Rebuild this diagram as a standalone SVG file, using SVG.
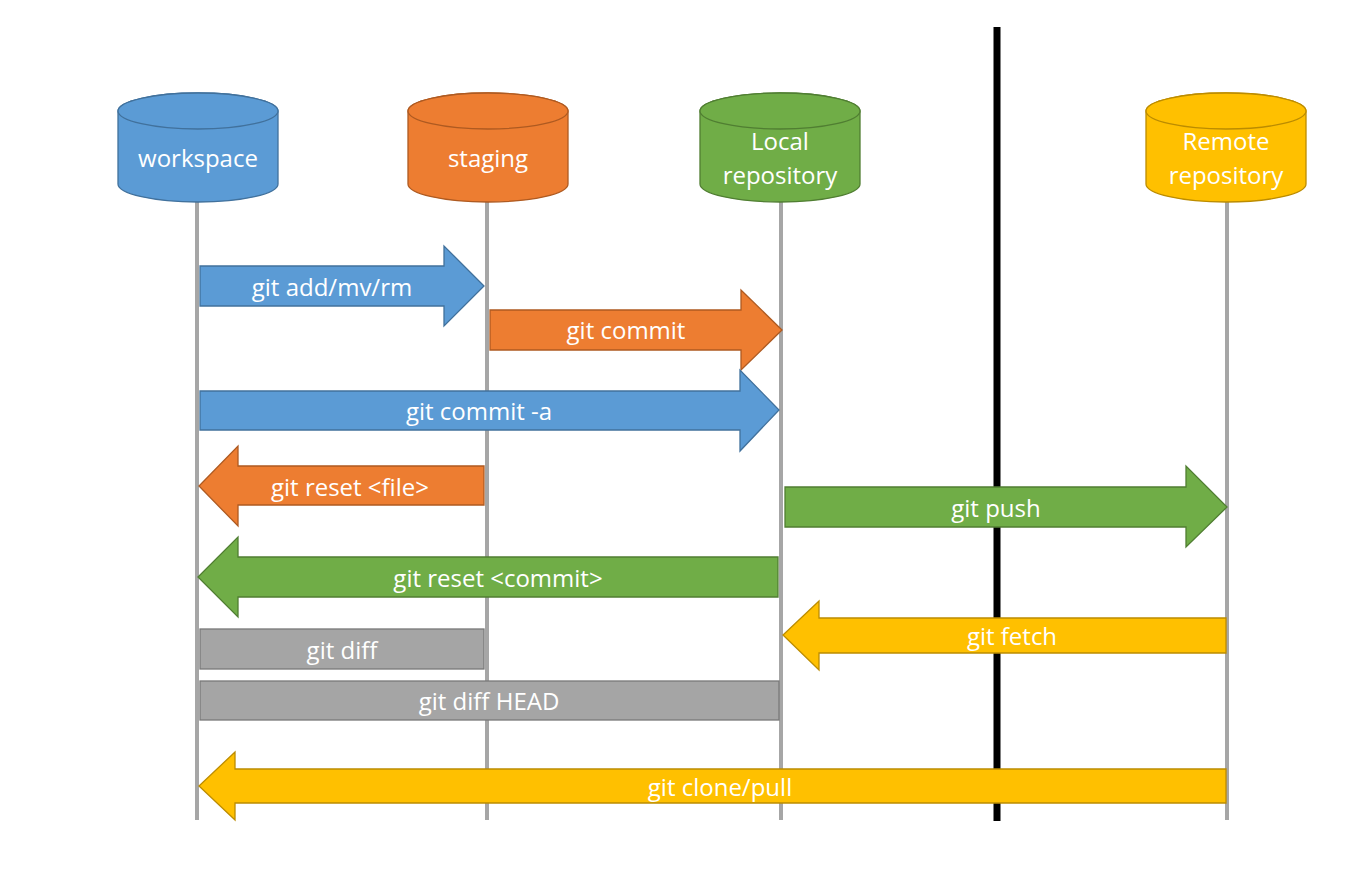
<svg xmlns="http://www.w3.org/2000/svg" width="1358" height="887" viewBox="0 0 1358 887">
<style>
text{font-family:"Open Sans","Noto Sans",sans-serif;font-size:24px;fill:#fff;text-anchor:middle;dominant-baseline:central}
.life{stroke:#A6A6A6;stroke-width:4;fill:none}
.blue{fill:#5B9BD5;stroke:#41719C;stroke-width:1.3}
.orange{fill:#ED7D31;stroke:#AE5A21;stroke-width:1.3}
.green{fill:#70AD47;stroke:#507E32;stroke-width:1.3}
.yellow{fill:#FFC000;stroke:#BC8C00;stroke-width:1.3}
.gray{fill:#A5A5A5;stroke:#787878;stroke-width:1.3}
</style>
<rect width="1358" height="887" fill="#fff"/>
<g id="lifelines">
<line class="life" x1="197" y1="200" x2="197" y2="820"/>
<line class="life" x1="487" y1="200" x2="487" y2="820"/>
<line class="life" x1="781" y1="200" x2="781" y2="820"/>
<line class="life" x1="1227" y1="200" x2="1227" y2="820"/>
<line x1="997" y1="27" x2="997" y2="821" stroke="#000" stroke-width="7"/>
</g>
<g id="workspace">
<path class="blue" d="M118,111 A80,18 0 0 1 278,111 V184 A80,18 0 0 1 118,184 Z"/>
<ellipse class="blue" cx="198" cy="111" rx="80" ry="18"/>
<text x="198" y="157">workspace</text>
</g>
<g id="staging">
<path class="orange" d="M408,111 A80,18 0 0 1 568,111 V184 A80,18 0 0 1 408,184 Z"/>
<ellipse class="orange" cx="488" cy="111" rx="80" ry="18"/>
<text x="488" y="157">staging</text>
</g>
<g id="local">
<path class="green" d="M700,111 A80,18 0 0 1 860,111 V184 A80,18 0 0 1 700,184 Z"/>
<ellipse class="green" cx="780" cy="111" rx="80" ry="18"/>
<text x="780" y="140">Local</text>
<text x="780" y="174">repository</text>
</g>
<g id="remote">
<path class="yellow" d="M1146,111 A80,18 0 0 1 1306,111 V184 A80,18 0 0 1 1146,184 Z"/>
<ellipse class="yellow" cx="1226" cy="111" rx="80" ry="18"/>
<text x="1226" y="140">Remote</text>
<text x="1226" y="174">repository</text>
</g>
<g id="connectors">
<g id="git-add">
<path class="blue" d="M200,266 H444 V246 L484,286 L444,326 V306 H200 Z"/>
<text x="332" y="286">git add/mv/rm</text>
</g>
<g id="git-commit">
<path class="orange" d="M490,310 H741 V290 L782,330 L741,370 V350 H490 Z"/>
<text x="626" y="329">git commit</text>
</g>
<g id="git-commit-a">
<path class="blue" d="M200,391 H740 V370 L779,410 L740,451 V430 H200 Z"/>
<text x="479" y="410">git commit -a</text>
</g>
<g id="git-reset-file">
<path class="orange" d="M484,466 H238 V446 L199,486 L238,526 V505 H484 Z"/>
<text x="350" y="486">git reset &lt;file&gt;</text>
</g>
<g id="git-push">
<path class="green" d="M785,487 H1186 V466 L1227,507 L1186,547 V527 H785 Z"/>
<text x="996" y="507">git push</text>
</g>
<g id="git-reset-commit">
<path class="green" d="M778,557 H238 V537 L198,577 L238,617 V597 H778 Z"/>
<text x="498" y="577">git reset &lt;commit&gt;</text>
</g>
<g id="git-fetch">
<path class="yellow" d="M1226,618 H819 V601 L783,635 L819,670 V653 H1226 Z"/>
<text x="1012" y="635">git fetch</text>
</g>
<g id="git-diff">
<rect class="gray" x="200" y="629" width="284" height="40"/>
<text x="342" y="649">git diff</text>
</g>
<g id="git-diff-head">
<rect class="gray" x="200" y="681" width="579" height="39"/>
<text x="489" y="700">git diff HEAD</text>
</g>
<g id="git-clone-pull">
<path class="yellow" d="M1226,769 H235 V752 L199,786 L235,820 V803 H1226 Z"/>
<text x="720" y="786">git clone/pull</text>
</g>
</g>
</svg>
